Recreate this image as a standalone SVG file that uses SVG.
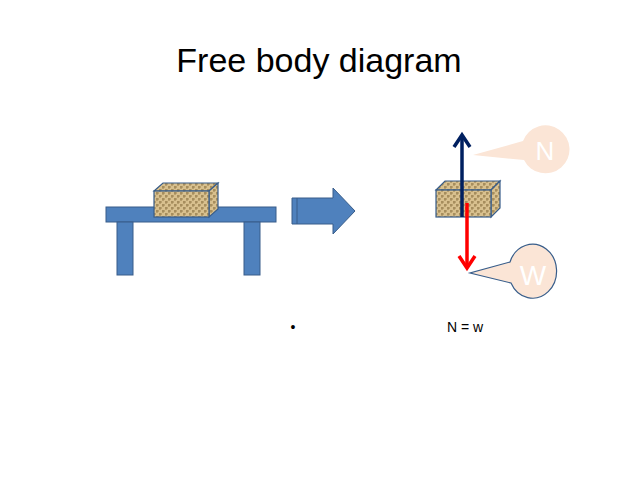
<svg xmlns="http://www.w3.org/2000/svg" width="638" height="478" viewBox="0 0 638 478">
<defs>
<pattern id="tx" width="6" height="6" patternUnits="userSpaceOnUse">
<rect width="6" height="6" fill="#d8c08e"/>
<path d="M0 1h3M3 4h3M1 0v3M4 3v3" stroke="#8a7040" stroke-width="0.8"/>
</pattern>
</defs>
<style>
.blue{fill:#4f81bd;stroke:#385d8a;stroke-width:1}
.box{fill:url(#tx);stroke:#385d8a;stroke-width:1.2}
text{font-family:"Liberation Sans",Arial,sans-serif}
</style>
<rect width="638" height="478" fill="#fff"/>
<text x="319" y="72" font-size="34" text-anchor="middle" fill="#000">Free body diagram</text>
<g id="table">
<rect class="blue" x="106" y="207" width="170" height="15"/>
<rect class="blue" x="117" y="222" width="16" height="53"/>
<rect class="blue" x="244" y="222" width="16" height="53"/>
</g>
<g id="box1">
<polygon class="box" points="154,191 163,183 218,183 209,191"/>
<polygon class="box" points="209,191 218,183 218,209 209,217"/>
<rect class="box" x="154" y="191" width="55" height="26"/>
</g>
<g id="bigarrow">
<polygon class="blue" points="292,198 333,198 333,188 355,211 333,234 333,224 292,224"/>
<line x1="297" y1="198" x2="297" y2="224" stroke="#385d8a"/>
</g>
<g id="box2">
<polygon class="box" points="436,190 445,181 500,181 491,190"/>
<polygon class="box" points="491,190 500,181 500,208 491,217"/>
<rect class="box" x="436" y="190" width="55" height="27"/>
</g>
<g id="connectors">
<line x1="462" y1="217" x2="462" y2="135" stroke="#002060" stroke-width="3.5"/>
<polyline points="454,147 462,135 470,147" fill="none" stroke="#002060" stroke-width="3.5"/>
<line x1="467" y1="203" x2="467" y2="268" stroke="#ff0000" stroke-width="3.5"/>
<polyline points="459,256 467,268 475,256" fill="none" stroke="#ff0000" stroke-width="3.5"/>
</g>
<g id="N">
<path d="M523,141 A24,24 0 1 1 524,160 L473,155 Z" fill="#fbe5d6"/>
<text x="545" y="160" font-size="26" fill="#fff" text-anchor="middle">N</text>
</g>
<g id="W">
<path d="M510,262 A24,27 0 1 1 511,283 L470,273 Z" fill="#fbe5d6" stroke="#385d8a" stroke-width="1.2"/>
<text x="533" y="285" font-size="28" fill="#fff" text-anchor="middle">W</text>
</g>
<text x="293" y="332" font-size="14" text-anchor="middle">•</text>
<text x="465" y="332" font-size="14" text-anchor="middle">N = w</text>
</svg>
